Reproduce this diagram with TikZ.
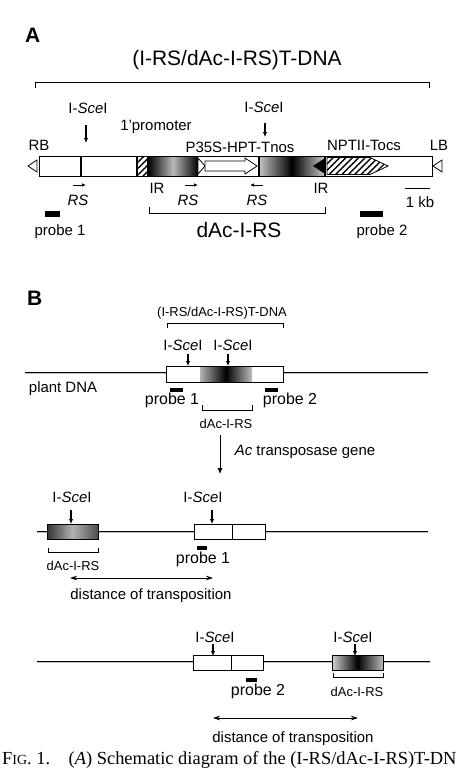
\documentclass[tikz,border=0pt]{standalone}
\usepackage{fontspec}
\setmainfont{Liberation Sans}
\newfontfamily\capfont{Liberation Serif}
\usepackage{tikz}
\usetikzlibrary{arrows.meta, patterns.meta}
\tikzset{
  lbl/.style={inner sep=0pt, anchor=base, font=\fontsize{15}{18}\selectfont},
  lblL/.style={lbl, font=\fontsize{21}{24}\selectfont},
  lblS/.style={lbl, font=\fontsize{13}{15}\selectfont},
  panel/.style={inner sep=0pt, anchor=base west, font=\fontsize{21}{24}\selectfont\bfseries},
  cut/.style={-{Latex[length=5bp,width=4.5bp]}, line width=1.1bp},
  rsarr/.style={-{Latex[length=4bp,width=3.5bp]}, line width=1bp},
  brk/.style={line width=0.7bp},
  probe/.style={fill=black},
  seg/.style={draw=black, line width=0.8bp, fill=white},
  dna/.style={draw=black, line width=0.9bp, double=gray!50, double distance=1bp},
  dist/.style={{Stealth[length=7bp,width=4.5bp]}-{Stealth[length=7bp,width=4.5bp]}, line width=0.7bp},
  hatch/.style={pattern={Lines[angle=45,distance=4.5bp,line width=1.4bp]}},
}
\newcommand{\isce}{I-\textit{Sce}I}

\begin{document}
\begin{tikzpicture}[x=1bp, y=-1bp]
  \useasboundingbox (0,0) rectangle (474,771);
  \clip (0,0) rectangle (474,771);
  \fill[white] (0,0) rectangle (474,771);

  % ---------------- Panel A ----------------
  \node[panel] (panA) at (25,43) {A};
  \node[lblL] (titleA) at (237,66) {(I-RS/dAc-I-RS)T-DNA};
  \draw[brk] (35,88) -- (35,82) -- (429,82) -- (429,88);

  % T-DNA bar
  \draw[seg] (39,156) rectangle (432,176);
  \shade[left color=black, right color=black, middle color=gray!55] (148,156) rectangle (198,176);
  \shade[left color=gray!45, right color=black] (259,156) rectangle (292,176);
  \shade[left color=black, right color=gray!40] (292,156) rectangle (325,176);
  \fill[hatch] (137,156) rectangle (148,176);
  \draw[fill=white, line width=0.8bp] (198,158) -- (205,166) -- (198,174) -- cycle;
  \fill (325,158) -- (313,166) -- (325,174) -- cycle;
  % HPT arrow
  \draw[fill=white, line width=0.8bp] (205,161) -- (245,161) -- (245,158) -- (257,166)
       -- (245,174) -- (245,171) -- (205,171) -- cycle;
  % NPTII arrow
  \draw[hatch, draw=black, line width=0.8bp] (327,157.5) -- (370,157.5) -- (388,166)
       -- (370,174.5) -- (327,174.5) -- cycle;
  \foreach \xd in {81,137,148,259,325}
    \draw[line width=1.2bp] (\xd,156) -- (\xd,176);
  \draw[line width=0.8bp] (39,156) rectangle (432,176);
  % border triangles
  \draw[line width=0.8bp] (37,160) -- (28,166) -- (37,172) -- cycle;
  \draw[line width=0.8bp] (442,160) -- (433,166) -- (442,172) -- cycle;

  % labels above the bar
  \node[lbl] (rbA) at (39,150) {RB};
  \node[lbl] (lbA) at (439,150) {LB};
  \node[lbl] (hptA) at (240,152) {P35S-HPT-Tnos};
  \node[lbl] (nptA) at (364,150) {NPTII-Tocs};
  \node[lbl] (promA) at (156,130) {1'promoter};
  \node[lbl] (sceA1) at (88,113) {\isce};
  \node[lbl] (sceA2) at (264,112) {\isce};
  \coordinate (cutA1a) at (86,125);  \coordinate (cutA1) at (86,143);
  \coordinate (cutA2a) at (265,123); \coordinate (cutA2) at (265,137);
  \draw[cut] (cutA1a) -- (cutA1);
  \draw[cut] (cutA2a) -- (cutA2);

  % labels below the bar
  \coordinate (rsA1a) at (73,185);  \coordinate (rsA1b) at (86,185);
  \coordinate (rsA2a) at (185,185); \coordinate (rsA2b) at (198,185);
  \coordinate (rsA3a) at (263,185); \coordinate (rsA3b) at (250,185);
  \draw[rsarr] (rsA1a) -- (rsA1b);
  \draw[rsarr] (rsA2a) -- (rsA2b);
  \draw[rsarr] (rsA3a) -- (rsA3b);
  \node[lbl] (rsA1) at (78,205) {\textit{RS}};
  \node[lbl] (rsA2) at (188,205) {\textit{RS}};
  \node[lbl] (rsA3) at (257,205) {\textit{RS}};
  \node[lbl] (irA1) at (157,193) {IR};
  \node[lbl] (irA2) at (321,193) {IR};
  \draw[line width=1bp] (405,188) -- (430,188);
  \node[lbl] (kbA) at (420,207) {1 kb};
  \draw[brk] (149,207) -- (149,213) -- (325,213) -- (325,207);
  \fill[probe] (45,211) rectangle (60,217);
  \fill[probe] (360,211) rectangle (383,217);
  \node[lbl] (prA1) at (60,235) {probe 1};
  \node[lbl] (prA2) at (382,235) {probe 2};
  \node[lblL] (dacA) at (239,237) {dAc-I-RS};

  % ---------------- Panel B ----------------
  \node[panel] (panB) at (27,305) {B};
  \node[lblS] (titleB) at (222,316) {(I-RS/dAc-I-RS)T-DNA};
  \draw[brk] (167,328) -- (167,323) -- (283,323) -- (283,328);
  \node[lbl] (sceB1) at (183,350) {\isce};
  \node[lbl] (sceB2) at (233,350) {\isce};
  \coordinate (cutB1a) at (188,354); \coordinate (cutB1) at (188,366);
  \coordinate (cutB2a) at (228,354); \coordinate (cutB2) at (228,366);
  \draw[dna] (25,373) -- (428,373);
  \draw[seg] (166,366) rectangle (283,382);
  \shade[left color=gray!60, right color=gray!50, middle color=black] (200,366) rectangle (252,382);
  \draw[line width=0.8bp] (166,366) rectangle (283,382);
  \draw[cut] (cutB1a) -- (cutB1);
  \draw[cut] (cutB2a) -- (cutB2);
  \node[lbl] (plantB) at (63,392) {plant DNA};
  \fill[probe] (170,388) rectangle (183,392);
  \fill[probe] (265,388) rectangle (278,392);
  \node[lbl, font=\fontsize{16}{18}\selectfont] (prB1) at (172,404) {probe 1};
  \node[lbl, font=\fontsize{16}{18}\selectfont] (prB2) at (290,404) {probe 2};
  \draw[brk] (202,405) -- (202,410) -- (252,410) -- (252,405);
  \node[lblS] (dacB) at (226,428) {dAc-I-RS};
  \coordinate (trA) at (220,435); \coordinate (trB) at (220,474);
  \draw[-{Latex[length=6bp,width=5bp]}, line width=0.8bp] (trA) -- (trB);
  \node[lbl] (acB) at (305,455) {\textit{Ac} transposase gene};

  % row 2: after transposition, probe 1 side
  \draw[dna] (37,532) -- (428,532);
  \shade[draw=black, line width=0.8bp, left color=black!80, right color=black!70, middle color=gray!60]
       (47,524) rectangle (98,539);
  \draw[seg] (194,524) rectangle (265,539);
  \draw[line width=0.8bp] (232,524) -- (232,539);
  \node[lbl] (sceC1) at (72,502) {\isce};
  \node[lbl] (sceC2) at (203,502) {\isce};
  \coordinate (cutC1a) at (71,510); \coordinate (cutC1) at (71,524);
  \coordinate (cutC2a) at (212,510); \coordinate (cutC2) at (212,524);
  \draw[cut] (cutC1a) -- (cutC1);
  \draw[cut] (cutC2a) -- (cutC2);
  \draw[brk] (48,548) -- (48,552) -- (98,552) -- (98,548);
  \node[lblS] (dacC) at (73,570) {dAc-I-RS};
  \fill[probe] (197,546) rectangle (207,550);
  \node[lbl, font=\fontsize{16}{18}\selectfont] (prC1) at (203,563) {probe 1};
  \coordinate (distC1) at (70,578); \coordinate (distC2) at (213,578);
  \draw[dist] (distC1) -- (distC2);
  \node[lbl] (distC) at (151,599) {distance of transposition};

  % row 3: after transposition, probe 2 side
  \draw[dna] (37,662) -- (430,662);
  \draw[seg] (193,655) rectangle (263,670);
  \draw[line width=0.8bp] (231,655) -- (231,670);
  \shade[left color=gray!35, right color=gray!55, middle color=black] (332,655) rectangle (383,670);
  \draw[line width=0.8bp] (332,655) rectangle (383,670);
  \node[lbl] (sceD1) at (215,642) {\isce};
  \node[lbl] (sceD2) at (353,642) {\isce};
  \coordinate (cutD1a) at (213,644); \coordinate (cutD1) at (213,656);
  \coordinate (cutD2a) at (355,644); \coordinate (cutD2) at (355,656);
  \draw[cut] (cutD1a) -- (cutD1);
  \draw[cut] (cutD2a) -- (cutD2);
  \fill[probe] (246,678) rectangle (257,682);
  \node[lbl, font=\fontsize{16}{18}\selectfont] (prD2) at (258,695) {probe 2};
  \draw[brk] (333,673) -- (333,677) -- (383,677) -- (383,673);
  \node[lblS] (dacD) at (357,696) {dAc-I-RS};
  \coordinate (distD1) at (213,718); \coordinate (distD2) at (358,718);
  \draw[dist] (distD1) -- (distD2);
  \node[lbl] (distD) at (293,742) {distance of transposition};

  % caption (as far as the page shows it)
  \node[inner sep=0pt, anchor=base west, font=\capfont\fontsize{18.5}{22}\selectfont] (capt) at (2,764)
       {F{\fontsize{14}{17}\selectfont IG}.\ 1.\quad(\textit{A}) Schematic diagram of the (I-RS/dAc-I-RS)T-DN};
\end{tikzpicture}
\end{document}
